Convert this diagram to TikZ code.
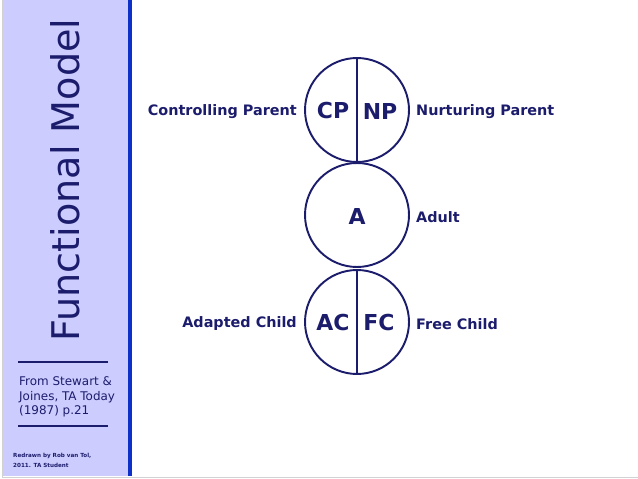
\documentclass[tikz,border=0pt]{standalone}
\usepackage{fontspec}
\setmainfont{DejaVu Sans}
\definecolor{navy}{HTML}{1C1C6C}
\definecolor{lavender}{HTML}{CCCCFF}
\definecolor{barblue}{HTML}{0C30C8}

\begin{document}
\begin{tikzpicture}[x=0.02cm,y=-0.02cm]

      \useasboundingbox (0,0) rectangle (638,479);

      % side panel
      \fill[lavender] (3,0) rectangle (128,476);
      \fill[barblue] (128,0) rectangle (132,476);
      \draw[gray!35] (2,0) -- (2,477) -- (638,477);

      \begin{scope}[every node/.style={text=navy}]
        \node[rotate=90,font=\fontsize{21.7}{26}\selectfont] (title) at (65,180) {Functional Model};
        \node[anchor=north west,align=left,font=\fontsize{6.8}{8.5}\selectfont] (src) at (13,370) {From Stewart \&\\Joines, TA Today\\(1987) p.21};
        \node[anchor=north west,align=left,font=\bfseries\fontsize{3.2}{5.6}\selectfont] (credit) at (7,447) {Redrawn by Rob van Tol,\\2011. TA Student};
      \end{scope}
      \draw[navy,line width=0.6pt] (18,362) -- (108,362);
      \draw[navy,line width=0.6pt] (18,426) -- (108,426);

      \begin{scope}[every node/.style={circle,draw=navy,line width=1.1pt,minimum size=2.08cm,inner sep=0pt}]
        \node (p) at (357,110) {};
        \node (a) at (357,215) {};
        \node (c) at (357,322) {};
      \end{scope}

      \draw[navy,line width=0.7pt] (p.north) -- (p.south);
      \draw[navy,line width=0.7pt] (c.north) -- (c.south);

      \begin{scope}[every node/.style={text=navy,font=\bfseries\fontsize{12.5}{14}\selectfont}]
        \node (cp) at (333,111) {CP};
        \node (np) at (380,111) {NP};
        \node (ad) at (357,216) {A};
        \node (ac) at (333,323) {AC};
        \node (fc) at (379,323) {FC};
      \end{scope}

      \begin{scope}[every node/.style={text=navy,font=\bfseries\fontsize{8.2}{10}\selectfont}]
        \node[anchor=west] (npl) at (410,112) {Nurturing Parent};
        \node[anchor=east] (cpl) at (303,112) {Controlling Parent};
        \node[anchor=west] (adl) at (410,217) {Adult};
        \node[anchor=east] (acl) at (303,324) {Adapted Child};
        \node[anchor=west] (fcl) at (410,324) {Free Child};
      \end{scope}

    \end{tikzpicture}
\end{document}
